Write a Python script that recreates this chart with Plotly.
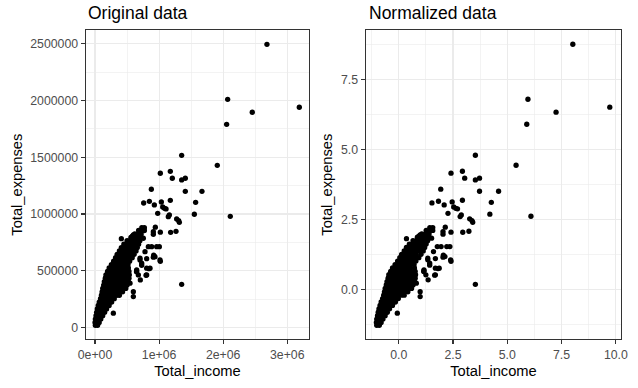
import plotly.graph_objects as go

# ---------------- data (values in thousands) ----------------
# dense core, listed row by row (expenses level, incomes on that level)
core_rows = [
    (20, [5, 40]),
    (45, [0, 30, 65]),
    (75, [5, 35, 65, 90]),
    (105, [15, 50, 85, 120]),
    (135, [25, 60, 95, 125, 150]),
    (165, [35, 70, 105, 140, 180]),
    (195, [50, 85, 120, 155, 190, 220]),
    (225, [65, 100, 135, 170, 205, 235, 260]),
    (255, [85, 120, 155, 190, 225, 260, 300]),
    (285, [100, 140, 180, 220, 260, 300, 340, 380]),
    (315, [110, 150, 190, 230, 270, 310, 350, 390, 430]),
    (345, [120, 160, 200, 240, 280, 320, 360, 400, 440, 480]),
    (375, [135, 175, 215, 255, 295, 335, 375, 415, 455, 500]),
    (405, [145, 185, 225, 265, 305, 345, 385, 425, 465, 520]),
    (435, [160, 200, 240, 280, 320, 360, 400, 440, 480, 530]),
    (465, [170, 210, 250, 290, 330, 370, 410, 450, 490, 535]),
    (495, [195, 235, 275, 315, 355, 395, 435, 475, 530]),
    (525, [220, 260, 300, 340, 380, 420, 460, 520]),
    (555, [255, 295, 335, 375, 415, 455, 515]),
    (585, [290, 330, 370, 410, 450, 490, 540]),
    (615, [320, 360, 400, 440, 480, 520, 580]),
    (645, [345, 385, 425, 465, 505, 545, 610]),
    (675, [380, 420, 460, 500, 540, 590, 640]),
    (705, [410, 450, 490, 530, 570, 620, 660]),
    (735, [450, 490, 530, 580, 630, 680]),
    (765, [500, 545, 600, 650, 700]),
    (795, [560, 610, 660, 720]),
    (825, [620, 670, 720]),
    (855, [680, 730, 770]),
    (880, [730, 770]),
]

# scattered households (income k, expenses k)
scatter_income_k = [2683, 2070, 3188, 2454, 2054, 1352, 1908, 1019, 1175, 1206,
                    1352, 1409, 879, 1409, 1669, 759, 848, 926, 1035, 1175,
                    1570, 978, 1056, 1085, 1108, 1144, 1160, 1274, 1305, 1316,
                    1550, 2111, 1180, 1264, 1352, 1019, 941, 1004, 1019, 915,
                    842, 796, 806, 728, 910, 832, 650, 707, 598, 411,
                    582, 286, 170, 598, 546, 676, 806, 650, 806, 702,
                    936, 1014, 780, 884, 858, 702, 910, 598, 754, 546,
                    962, 910, 647, 728]
scatter_expenses_k = [2494, 2010, 1940, 1896, 1790, 1517, 1429, 1359, 1376, 1315,
                      1300, 1315, 1218, 1200, 1200, 1097, 1112, 1080, 1106, 1121,
                      1103, 1006, 1062, 1050, 1045, 977, 992, 957, 942, 927,
                      998, 980, 839, 848, 381, 840, 884, 713, 584, 637,
                      519, 461, 607, 549, 822, 713, 499, 420, 273, 783,
                      805, 127, 440, 316, 391, 464, 464, 508, 523, 596,
                      625, 596, 669, 713, 523, 611, 845, 816, 787, 743,
                      713, 620, 493, 567]

income = []
expenses = []
for level, xs in core_rows:
    for v in xs:
        income.append(v * 1000)
        expenses.append(level * 1000)
for xi, yi in zip(scatter_income_k, scatter_expenses_k):
    income.append(xi * 1000)
    expenses.append(yi * 1000)

# standardisation constants (mean / sd)
MEAN_INCOME, SD_INCOME = 305000, 296600
MEAN_EXPENSES, SD_EXPENSES = 337000, 246500
income_norm = [(v - MEAN_INCOME) / SD_INCOME for v in income]
expenses_norm = [(v - MEAN_EXPENSES) / SD_EXPENSES for v in expenses]

# tick labels
orig_x_ticks = [0, 1e6, 2e6, 3e6]
orig_x_labels = ["0e+00", "1e+06", "2e+06", "3e+06"]
orig_y_ticks = [0, 500000, 1000000, 1500000, 2000000, 2500000]
orig_y_labels = ["0", "500000", "1000000", "1500000", "2000000", "2500000"]
norm_x_ticks = [0, 2.5, 5, 7.5, 10]
norm_x_labels = ["0.0", "2.5", "5.0", "7.5", "10.0"]
norm_y_ticks = [0, 2.5, 5, 7.5]
norm_y_labels = ["0.0", "2.5", "5.0", "7.5"]

# ---------------- figure ----------------
W, H = 638, 388
FONT = "Arial, Liberation Sans, sans-serif"
marker = dict(color="black", size=5.3, line=dict(width=0))

fig = go.Figure()
fig.add_trace(go.Scatter(x=income, y=expenses, mode="markers", marker=marker,
                         xaxis="x", yaxis="y", showlegend=False, hoverinfo="skip"))
fig.add_trace(go.Scatter(x=income_norm, y=expenses_norm, mode="markers", marker=marker,
                         xaxis="x2", yaxis="y2", showlegend=False, hoverinfo="skip"))


def px_x(p):
    return p / W


def px_y(p):
    return 1 - p / H


def axis(domain, rng, tickvals, ticktext, minor_vals, title, standoff, anchor):
    return dict(
        domain=domain, range=rng, anchor=anchor,
        tickmode="array", tickvals=tickvals, ticktext=ticktext,
        showline=True, linecolor="#333333", linewidth=1.1, mirror=True,
        ticks="outside", ticklen=4, tickwidth=1.1, tickcolor="#333333",
        showgrid=True, gridcolor="#EBEBEB", gridwidth=1.1, zeroline=False,
        minor=dict(tickmode="array", tickvals=minor_vals, showgrid=True,
                   gridcolor="#EBEBEB", gridwidth=0.6, ticks=""),
        tickfont=dict(family=FONT, size=12.3, color="#4D4D4D"),
        title=dict(text=title, font=dict(family=FONT, size=14.7, color="black"),
                   standoff=standoff),
        automargin=False,
    )


top, bottom = 30.0, 339.3
ydom = [px_y(bottom), px_y(top)]
fig.update_layout(
    width=W, height=H,
    margin=dict(l=0, r=0, t=0, b=0),
    paper_bgcolor="white", plot_bgcolor="white",
    xaxis=axis([px_x(85.7), px_x(309.3)], [-145600, 3344000], orig_x_ticks, orig_x_labels,
               [500000, 1500000, 2500000], "Total_income", 4, "y"),
    yaxis=axis(ydom, [-102700, 2620000], orig_y_ticks, orig_y_labels,
               [250000, 750000, 1250000, 1750000, 2250000], "Total_expenses", 4, "x"),
    xaxis2=axis([px_x(365.7), px_x(621.3)], [-1.52, 10.25], norm_x_ticks, norm_x_labels,
                [-1.25, 1.25, 3.75, 6.25, 8.75], "Total_income", 4, "y2"),
    yaxis2=axis(ydom, [-1.786, 9.26], norm_y_ticks, norm_y_labels,
                [-1.25, 1.25, 3.75, 6.25, 8.75], "Total_expenses", 4, "x2"),
    annotations=[
        dict(text="Original data", x=px_x(85.7), y=px_y(13.5), xref="paper", yref="paper",
             xanchor="left", yanchor="middle", showarrow=False,
             font=dict(family=FONT, size=17.5, color="black")),
        dict(text="Normalized data", x=px_x(366.5), y=px_y(13.5), xref="paper", yref="paper",
             xanchor="left", yanchor="middle", showarrow=False,
             font=dict(family=FONT, size=17.5, color="black")),
    ],
)

fig.write_html("out.html",
               config={"displayModeBar": False, "staticPlot": True},
               post_script="document.body.style.margin='0px';document.body.style.overflow='hidden';")
